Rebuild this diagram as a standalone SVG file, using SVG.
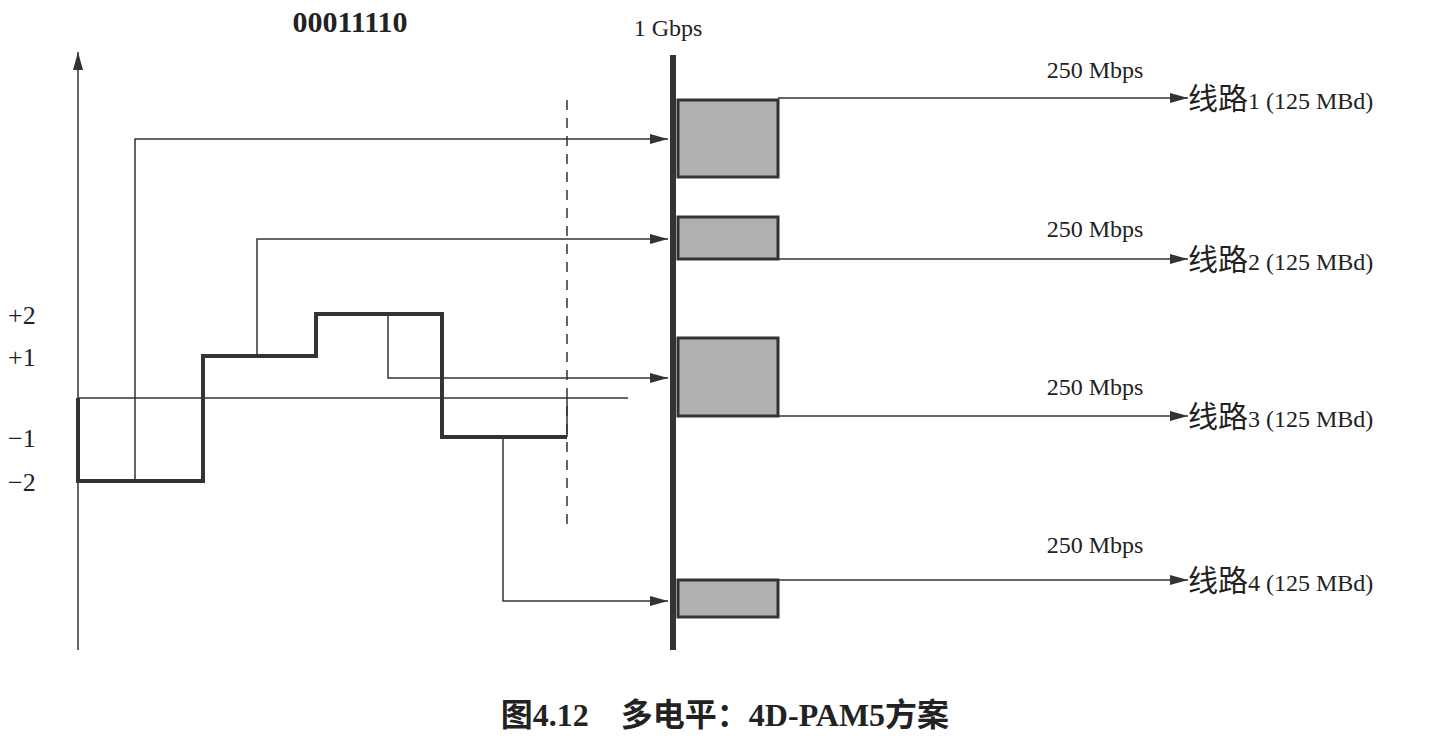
<svg xmlns="http://www.w3.org/2000/svg" width="1451" height="747" viewBox="0 0 1451 747">
<style>
text{font-family:"Liberation Serif","Noto Sans CJK SC",serif;fill:#222}
.t{stroke:#333;stroke-width:1.5;fill:none}
.k{stroke:#333;stroke-width:4;fill:none}
.b{fill:#b0b0b0;stroke:#333;stroke-width:3}
</style>
<defs><marker id="a" markerWidth="18" markerHeight="10" refX="18" refY="5" orient="auto" markerUnits="userSpaceOnUse"><path d="M0,0L18,5L0,10z" fill="#333"/></marker></defs>
<rect width="1451" height="747" fill="#fff"/>
<g id="axes">
<line class="t" x1="78" y1="650" x2="78" y2="52" marker-end="url(#a)"/>
<line class="t" x1="78" y1="398" x2="628" y2="398"/>
<line class="t" x1="567" y1="100" x2="567" y2="525" stroke-dasharray="10,8"/>
<text x="8" y="324" font-size="26">+2</text>
<text x="8" y="366" font-size="26">+1</text>
<text x="8" y="447" font-size="26">−1</text>
<text x="8" y="491" font-size="26">−2</text>
<text x="350" y="32" font-size="30" font-weight="bold" text-anchor="middle">00011110</text>
</g>
<g id="signal">
<path class="k" d="M78,398V481H203V356H316V314H442V437H567"/>
<line class="t" x1="567" y1="437" x2="567" y2="398"/>
</g>
<g id="bus">
<line x1="673" y1="55" x2="673" y2="650" stroke="#333" stroke-width="6"/>
<text x="668" y="36" font-size="24" text-anchor="middle">1 Gbps</text>
<rect class="b" x="678" y="100" width="100" height="77"/>
<rect class="b" x="678" y="217" width="100" height="42"/>
<rect class="b" x="678" y="338" width="100" height="78"/>
<rect class="b" x="678" y="580" width="100" height="37"/>
</g>
<g id="connectors">
<path class="t" d="M135,481V139H668" marker-end="url(#a)"/>
<path class="t" d="M257,356V239H668" marker-end="url(#a)"/>
<path class="t" d="M388,314V378H668" marker-end="url(#a)"/>
<path class="t" d="M503,437V601H668" marker-end="url(#a)"/>
<line class="t" x1="778" y1="98" x2="1188" y2="98" marker-end="url(#a)"/>
<line class="t" x1="778" y1="259" x2="1188" y2="259" marker-end="url(#a)"/>
<line class="t" x1="778" y1="416" x2="1188" y2="416" marker-end="url(#a)"/>
<line class="t" x1="778" y1="580" x2="1188" y2="580" marker-end="url(#a)"/>
</g>
<g id="labels" font-size="24">
<text x="1095" y="78" text-anchor="middle">250 Mbps</text>
<text x="1095" y="237" text-anchor="middle">250 Mbps</text>
<text x="1095" y="395" text-anchor="middle">250 Mbps</text>
<text x="1095" y="553" text-anchor="middle">250 Mbps</text>
<text x="1188" y="109"><tspan font-size="30">线路</tspan>1 (125 MBd)</text>
<text x="1188" y="270"><tspan font-size="30">线路</tspan>2 (125 MBd)</text>
<text x="1188" y="427"><tspan font-size="30">线路</tspan>3 (125 MBd)</text>
<text x="1188" y="591"><tspan font-size="30">线路</tspan>4 (125 MBd)</text>
</g>
<text x="725" y="726" font-size="32" font-weight="bold" text-anchor="middle">图4.12　多电平：4D-PAM5方案</text>
</svg>
